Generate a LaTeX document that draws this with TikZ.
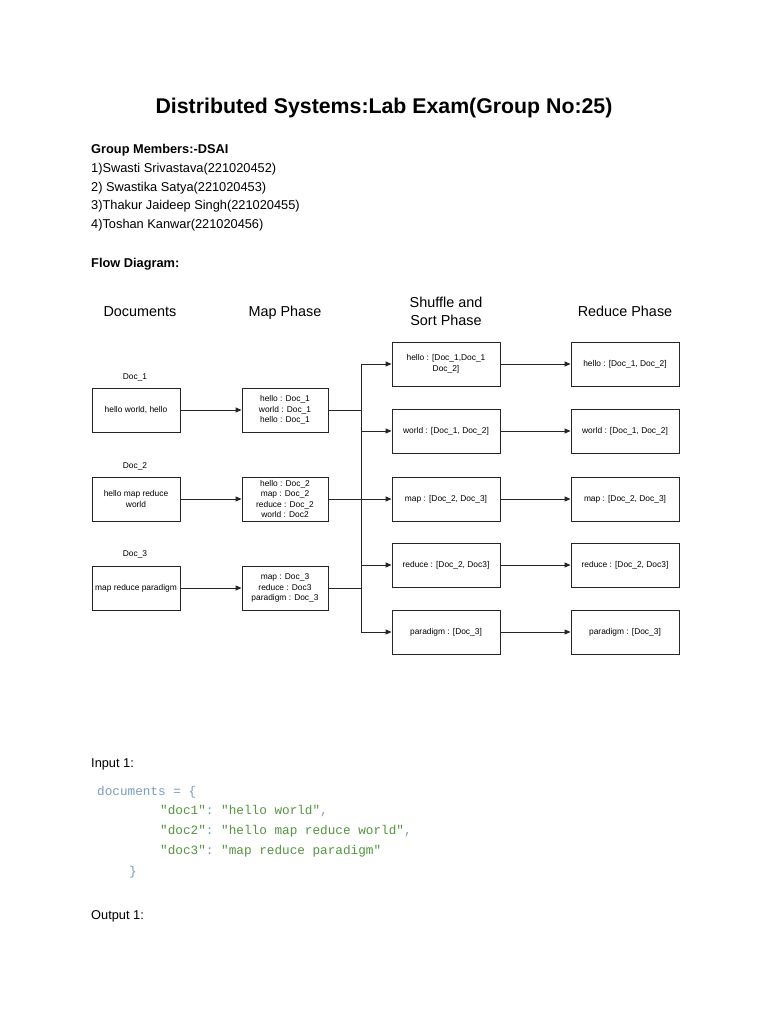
\documentclass[tikz,border=0pt]{standalone}
\usepackage{fontspec}
\setmainfont{Liberation Sans}
\setmonofont{Liberation Mono}
\usetikzlibrary{arrows.meta,positioning}
\definecolor{codeblue}{RGB}{122,156,190}
\definecolor{codegreen}{RGB}{84,150,62}
\begin{document}
\begin{tikzpicture}[x=1pt,y=-1pt,
  txt/.style={anchor=base west,inner sep=0pt,font=\fontsize{12.8}{15}\selectfont},
  bold12/.style={txt,font=\fontsize{12.8}{15}\selectfont\bfseries},
  hdr/.style={anchor=base,inner sep=0pt,font=\fontsize{14.4}{18}\selectfont,align=center},
  box/.style={draw=black!85,line width=0.9pt,inner sep=0pt,align=center,
     font=\fontsize{8.4}{10.6}\selectfont},
  docbox/.style={box,minimum width=88pt,minimum height=44pt},
  mapbox/.style={box,minimum width=86pt,minimum height=44pt},
  sbox/.style={box,minimum width=108pt,minimum height=44pt},
  small/.style={inner sep=0pt,font=\fontsize{8.4}{10}\selectfont},
  code/.style={anchor=base west,inner sep=0pt,font=\fontsize{12.7}{15}\ttfamily},
  arr/.style={-{Triangle[length=6pt,width=5pt]},line width=0.9pt,black!85},
  ln/.style={line width=0.9pt,black!85}]
\useasboundingbox[fill=white] (0,0) rectangle (768,1024);

% header text
\node[anchor=base,inner sep=0pt,font=\fontsize{21.3}{25}\selectfont\bfseries] (title) at (384,114) {Distributed Systems:Lab Exam(Group No:25)};
\node[bold12] (gm) at (91,154) {Group Members:-DSAI};
\node[txt] (m1) at (91,173) {1)Swasti Srivastava(221020452)};
\node[txt] (m2) at (91,192) {2) Swastika Satya(221020453)};
\node[txt] (m3) at (91,210) {3)Thakur Jaideep Singh(221020455)};
\node[txt] (m4) at (91,229) {4)Toshan Kanwar(221020456)};
\node[bold12] (fd) at (91,267) {Flow Diagram:};

% column headers
\node[hdr] (hdoc) at (140,316) {Documents};
\node[hdr] (hmap) at (285,316) {Map Phase};
\node[hdr] (hsh1) at (446,307) {Shuffle and};
\node[hdr] (hsh2) at (446,325) {Sort Phase};
\node[hdr] (hred) at (625,316) {Reduce Phase};

% documents
\node[docbox] (d1) at (136,410) {hello world, hello};
\node[docbox] (d2) at (136,499) {hello map reduce\\world};
\node[docbox] (d3) at (136,588) {map reduce paradigm};
\node[small] (l1) at (135,377) {Doc\_1};
\node[small] (l2) at (135,466) {Doc\_2};
\node[small] (l3) at (135,554) {Doc\_3};

% map
\node[mapbox] (p1) at (285,410) {hello : Doc\_1\\world : Doc\_1\\hello : Doc\_1};
\node[mapbox] (p2) at (285,499) {hello : Doc\_2\\map : Doc\_2\\reduce : Doc\_2\\world : Doc2};
\node[mapbox] (p3) at (285,588) {map : Doc\_3\\reduce : Doc3\\paradigm : Doc\_3};

% shuffle
\node[sbox] (s1) at (446,364) {hello : [Doc\_1,Doc\_1\\Doc\_2]};
\node[sbox] (s2) at (446,431) {world : [Doc\_1, Doc\_2]};
\node[sbox] (s3) at (446,499) {map : [Doc\_2, Doc\_3]};
\node[sbox] (s4) at (446,565) {reduce : [Doc\_2, Doc3]};
\node[sbox] (s5) at (446,632) {paradigm : [Doc\_3]};

% reduce
\node[sbox] (r1) at (625,364) {hello : [Doc\_1, Doc\_2]};
\node[sbox] (r2) at (625,431) {world : [Doc\_1, Doc\_2]};
\node[sbox] (r3) at (625,499) {map : [Doc\_2, Doc\_3]};
\node[sbox] (r4) at (625,565) {reduce : [Doc\_2, Doc3]};
\node[sbox] (r5) at (625,632) {paradigm : [Doc\_3]};

% connectors
\coordinate (bus) at (361,0);
\foreach \i in {1,2,3} {
  \draw[arr] (d\i) -- (p\i);
  \draw[ln] (p\i.east) -- (p\i.east -| bus);
}
\draw[ln] (bus |- s1.west) -- (bus |- s5.west);
\foreach \i in {1,...,5} {
  \draw[arr] (bus |- s\i.west) -- (s\i.west);
  \draw[arr] (s\i) -- (r\i);
}

% input / output
\node[txt] (in1) at (91,767) {Input 1:};
\node[code,text=codeblue] (c0) at (97,795) {documents = \{};
\node[code] (c1) at (160,814) {\textcolor{codegreen}{"doc1"}\textcolor{codeblue}{: }\textcolor{codegreen}{"hello world"}\textcolor{codeblue}{,}};
\node[code] (c2) at (160,834) {\textcolor{codegreen}{"doc2"}\textcolor{codeblue}{: }\textcolor{codegreen}{"hello map reduce world"}\textcolor{codeblue}{,}};
\node[code] (c3) at (160,854) {\textcolor{codegreen}{"doc3"}\textcolor{codeblue}{: }\textcolor{codegreen}{"map reduce paradigm"}};
\node[code,text=codeblue] (c4) at (129,875) {\}};
\node[txt] (out1) at (91,919) {Output 1:};
\end{tikzpicture}
\end{document}
